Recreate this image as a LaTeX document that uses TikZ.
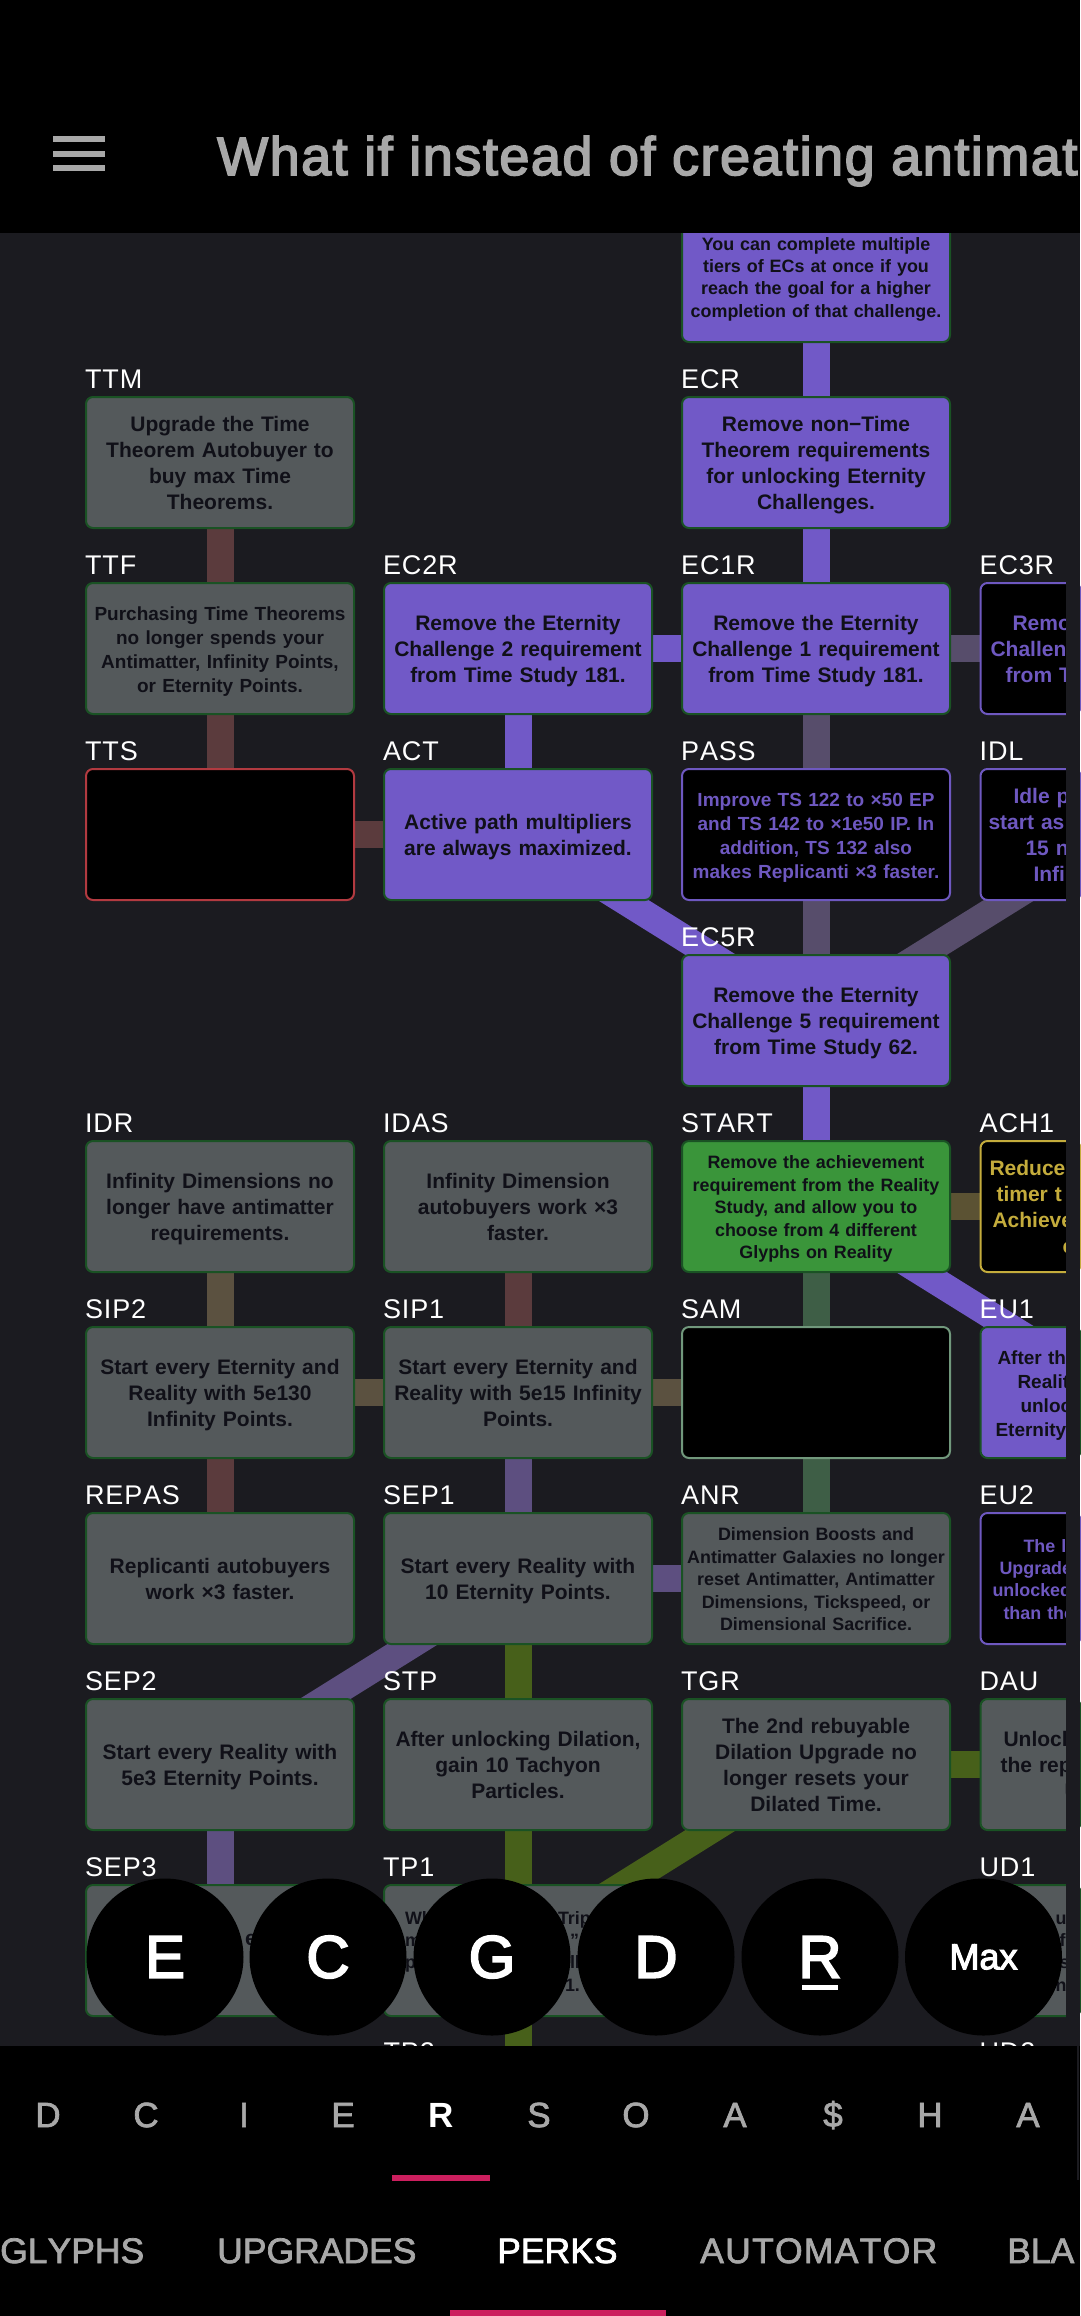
\documentclass[tikz,border=0pt]{standalone}
\usepackage{fontspec}
\setmainfont{Liberation Sans}
\newfontfamily\medfont[FakeBold=3]{Liberation Sans}
\newfontfamily\titlefont[FakeBold=3,LetterSpace=2.8]{Liberation Sans}
\newfontfamily\tagfont[Kerning=Off,LetterSpace=3]{Liberation Sans}
\newfontfamily\tabfont[FakeBold=2,Kerning=Off]{Liberation Sans}
\usetikzlibrary{backgrounds}
\definecolor{pagebg}{HTML}{1B1B20}
\definecolor{boxpurple}{HTML}{7159C7}
\definecolor{boxgrey}{HTML}{54595B}
\definecolor{boxgreen}{HTML}{3A953A}
\definecolor{rimgreen}{HTML}{1A5224}
\definecolor{inkdark}{HTML}{101018}
\definecolor{inkpurple}{HTML}{6E58C0}
\definecolor{inkgold}{HTML}{C4AC3C}
\definecolor{rimred}{HTML}{B23A40}
\definecolor{rimpale}{HTML}{71987C}
\definecolor{linkdim}{HTML}{574D6B}
\definecolor{linkred}{HTML}{5B3B3D}
\definecolor{linktan}{HTML}{5B5140}
\definecolor{linkmoss}{HTML}{3E5E46}
\definecolor{linkgold}{HTML}{5B5233}
\definecolor{linkolive}{HTML}{47601A}
\definecolor{linksep}{HTML}{5D4F80}
\definecolor{tabgrey}{HTML}{A8A8A8}
\definecolor{tabpink}{HTML}{CC1F5E}
\def\bigtext{\bfseries\fontsize{21}{26}\selectfont}
\def\midtext{\bfseries\fontsize{19}{24}\selectfont}
\def\smalltext{\bfseries\fontsize{17.9}{22.4}\selectfont}
\tikzset{
  perk/.style={draw=rimgreen, line width=2pt, rounded corners=7pt, minimum width=268pt, minimum height=131pt, inner sep=0pt, text width=266pt, align=center, text=inkdark, font=\bigtext,
    execute at begin node={\vrule width 0pt height .82\baselineskip},
    execute at end node={\vrule width 0pt depth .18\baselineskip}},
  bought/.style={perk, fill=boxpurple},
  dimmed/.style={perk, fill=boxgrey},
  start/.style={perk, fill=boxgreen},
  hidden/.style={perk, fill=black, draw=#1},
  edgecut/.style={minimum width=100pt, text width=100pt, align=left},
  tag/.style={anchor=south west, inner sep=0pt, yshift=7pt, text=white, font=\tagfont\fontsize{27}{27}\selectfont},
  link/.style={line width=27pt},
  tabkey/.style={anchor=center, inner sep=0pt, text=tabgrey, font=\tabfont\fontsize{35}{35}\selectfont},
  tabword/.style={anchor=base west, inner sep=0pt, text=tabgrey, font=\tabfont\fontsize{35.5}{35}\selectfont},
  roundkey/.style={circle, fill=black, minimum size=157pt, inner sep=0pt, text=white, font=\medfont\fontsize{60}{60}\selectfont}
}
\begin{document}
\begin{tikzpicture}[x=1pt,y=-1pt]
    \useasboundingbox (0,0) rectangle (1080,2316);
    % first column
    \node[dimmed] (ttm) at (220,462.5) {Upgrade the Time\\Theorem Autobuyer to\\buy max Time\\Theorems.};
    \node[dimmed, font=\midtext] (ttf) at (220,648.5) {Purchasing Time Theorems\\no longer spends your\\Antimatter, Infinity Points,\\or Eternity Points.};
    \node[hidden=rimred] (tts) at (220,834.5) {};
    \node[dimmed] (idr) at (220,1206.5) {Infinity Dimensions no\\longer have antimatter\\requirements.};
    \node[dimmed] (sip2) at (220,1392.5) {Start every Eternity and\\Reality with 5e130\\Infinity Points.};
    \node[dimmed] (repas) at (220,1578.5) {Replicanti autobuyers\\work ×3 faster.};
    \node[dimmed] (sep2) at (220,1764.5) {Start every Reality with\\5e3 Eternity Points.};
    \node[dimmed, align=left] (sep3) at (220,1950.5) {\hspace*{158pt}ea\\\mbox{}};
    % second column
    \node[bought] (ec2r) at (518,648.5) {Remove the Eternity\\Challenge 2 requirement\\from Time Study 181.};
    \node[bought] (act) at (518,834.5) {Active path multipliers\\are always maximized.};
    \node[dimmed] (idas) at (518,1206.5) {Infinity Dimension\\autobuyers work ×3\\faster.};
    \node[dimmed] (sip1) at (518,1392.5) {Start every Eternity and\\Reality with 5e15 Infinity\\Points.};
    \node[dimmed] (sep1) at (518,1578.5) {Start every Reality with\\10 Eternity Points.};
    \node[dimmed] (stp) at (518,1764.5) {After unlocking Dilation,\\gain 10 Tachyon\\Particles.};
    \node[dimmed, align=left, font=\smalltext] (tp1) at (518,1950.5) {\hspace*{20pt}\rlap{Wh}\hspace*{153pt}Trip\\\hspace*{20pt}\rlap{m}\hspace*{165pt}''\\\hspace*{20pt}\rlap{p}\hspace*{165pt}ll\\\hspace*{180pt}1.};
    % third column
    \node[bought, font=\smalltext] (ecm) at (816,276.5) {You can complete multiple\\tiers of ECs at once if you\\reach the goal for a higher\\completion of that challenge.};
    \node[bought] (ecr) at (816,462.5) {Remove non−Time\\Theorem requirements\\for unlocking Eternity\\Challenges.};
    \node[bought] (ec1r) at (816,648.5) {Remove the Eternity\\Challenge 1 requirement\\from Time Study 181.};
    \node[hidden=inkpurple, text=inkpurple, font=\midtext] (pass) at (816,834.5) {Improve TS 122 to ×50 EP\\and TS 142 to ×1e50 IP. In\\addition, TS 132 also\\makes Replicanti ×3 faster.};
    \node[bought] (ec5r) at (816,1020.5) {Remove the Eternity\\Challenge 5 requirement\\from Time Study 62.};
    \node[start, font=\smalltext] (start) at (816,1206.5) {Remove the achievement\\requirement from the Reality\\Study, and allow you to\\choose from 4 different\\Glyphs on Reality};
    \node[hidden=rimpale] (sam) at (816,1392.5) {};
    \node[dimmed, font=\smalltext] (anr) at (816,1578.5) {Dimension Boosts and\\Antimatter Galaxies no longer\\reset Antimatter, Antimatter\\Dimensions, Tickspeed, or\\Dimensional Sacrifice.};
    \node[dimmed] (tgr) at (816,1764.5) {The 2nd rebuyable\\Dilation Upgrade no\\longer resets your\\Dilated Time.};
    % fourth column, only its left end shows
    \node[hidden=inkpurple, edgecut, text=inkpurple] (ec3r) at (1030.5,648.5) {\hspace*{32pt}Remo\\\hspace*{10pt}Challen\\\hspace*{25pt}from T};
    \node[hidden=inkpurple, edgecut, text=inkpurple] (idl) at (1030.5,834.5) {\hspace*{33pt}Idle p\\\hspace*{8pt}start as\\\hspace*{45pt}15 n\\\hspace*{53pt}Infi};
    \node[hidden=inkgold, edgecut, text=inkgold] (ach1) at (1030.5,1206.5) {\hspace*{9pt}Reduce\\\hspace*{16pt}timer t\\\hspace*{12pt}Achieve\\\hspace*{82pt}c};
    \node[bought, edgecut, font=\midtext] (eu1) at (1030.5,1392.5) {\hspace*{17pt}After th\\\hspace*{37pt}Realit\\\hspace*{40pt}unloc\\\hspace*{15pt}Eternity};
    \node[hidden=inkpurple, edgecut, text=inkpurple, font=\smalltext] (eu2) at (1030.5,1578.5) {\hspace*{43pt}The l\\\hspace*{19pt}Upgrade\\\hspace*{12pt}unlocked\\\hspace*{23pt}than the};
    \node[dimmed, edgecut] (dau) at (1030.5,1764.5) {\hspace*{23pt}Unlock\\\hspace*{20pt}the rep\\\hspace*{84pt}U};
    \node[dimmed, edgecut, font=\smalltext] (ud1) at (1030.5,1950.5) {\hspace*{75pt}u\\\hspace*{79pt}f\\\hspace*{79pt}s\\\hspace*{75pt}n};
    \coordinate (tp2) at (518,2046);
    \foreach \n/\t in {ttm/TTM,ttf/TTF,tts/TTS,idr/IDR,sip2/SIP2,repas/REPAS,sep2/SEP2,sep3/SEP3,ec2r/EC2R,act/ACT,idas/IDAS,sip1/SIP1,sep1/SEP1,stp/STP,tp1/TP1,ecr/ECR,ec1r/EC1R,pass/PASS,ec5r/EC5R,start/START,sam/SAM,anr/ANR,tgr/TGR,ec3r/EC3R,idl/IDL,ach1/ACH1,eu1/EU1,eu2/EU2,dau/DAU,ud1/UD1}
      \node[tag] (\n tag) at (\n.north west) {\t};
    \node[tag] (tp2tag) at (383.5,2069) {TP2};
    \node[tag] (ud2tag) at (979.5,2069) {UD2};
    % links sit under the boxes
    \begin{scope}[on background layer]
     \fill[pagebg] (0,0) rectangle (1080,2316);
     \foreach \a/\b/\c in {ecm/ecr/boxpurple,ecr/ec1r/boxpurple,ec1r/ec2r/boxpurple,ec2r/act/boxpurple,ec5r/start/boxpurple,act/ec5r/boxpurple,
       ttm/ttf/linkred,ttf/tts/linkred,tts/act/linkred,ec1r/ec3r/linkdim,ec1r/pass/linkdim,pass/ec5r/linkdim,
       start/ach1/linkgold,start/sam/linkmoss,sam/anr/linkmoss,sam/sip1/linktan,sip1/sip2/linktan,sip2/idr/linktan,
       sip1/idas/linkred,sip2/repas/linkred,sip1/sep1/linksep,sep1/anr/linksep,sep1/sep2/linksep,sep2/sep3/linksep,
       sep1/stp/linkolive,stp/tp1/linkolive,tp1/tgr/linkolive,tgr/dau/linkolive,tp1/tp2/linkolive}
       \draw[link, draw=\c] (\a.center) -- (\b.center);
     \draw[link, draw=linkdim] (ec5r.center) -- ([xshift=11pt,yshift=21pt]idl.south);
     \draw[link, draw=boxpurple] (start.center) -- ([xshift=16pt,yshift=-24pt]eu1.north);
    \end{scope}
    \fill[pagebg] (1066,233) rectangle (1080,2046);
    % bar on top
    \fill[black] (0,0) rectangle (1080,233);
    \foreach \y in {136,150.5,165} \fill[tabgrey] (53,\y) rectangle (105,\y+6);
    \node[anchor=base west, inner sep=0pt, text=tabgrey, font=\titlefont\fontsize{54}{54}\selectfont] (title) at (217,175) {What if instead of creating antimat};
    % round keys
    \foreach \k/\x in {E/165,C/328,G/492,D/656,R/820}
      \node[roundkey] (key\k) at (\x,1957) {\k};
    \node[roundkey, font=\medfont\fontsize{36}{36}\selectfont] (keyMax) at (983.5,1957) {Max};
    \fill[white] (802,1985) rectangle (838,1990);
    % bars at the bottom
    \fill[black] (0,2046) rectangle (1080,2316);
    \draw[pagebg, line width=2pt] (1078,2046) -- (1078,2180);
    \foreach \c/\x [count=\i] in {D/48,C/146,I/244,E/343,S/539,O/636,A/735,\$/833,H/930,A/1028}
      \node[tabkey] (tab\i) at (\x,2115) {\c};
    \node[tabkey, text=white, font=\bfseries\fontsize{35}{35}\selectfont] (tabR) at (441,2115) {R};
    \fill[tabpink] (392,2175) rectangle (490,2181);
    \foreach \w/\x in {GLYPHS/0,UPGRADES/217,BLA/1007}
      \node[tabword] (\w) at (\x,2263) {\w};
    \node[tabword, font=\tabfont\fontsize{35.5}{35}\selectfont\addfontfeature{LetterSpace=3.6}] (AUTOMATOR) at (700,2263) {AUTOMATOR};
    \node[tabword, text=white] (PERKS) at (497,2263) {PERKS};
    \fill[tabpink] (450,2310) rectangle (666,2316);
    \end{tikzpicture}
\end{document}
